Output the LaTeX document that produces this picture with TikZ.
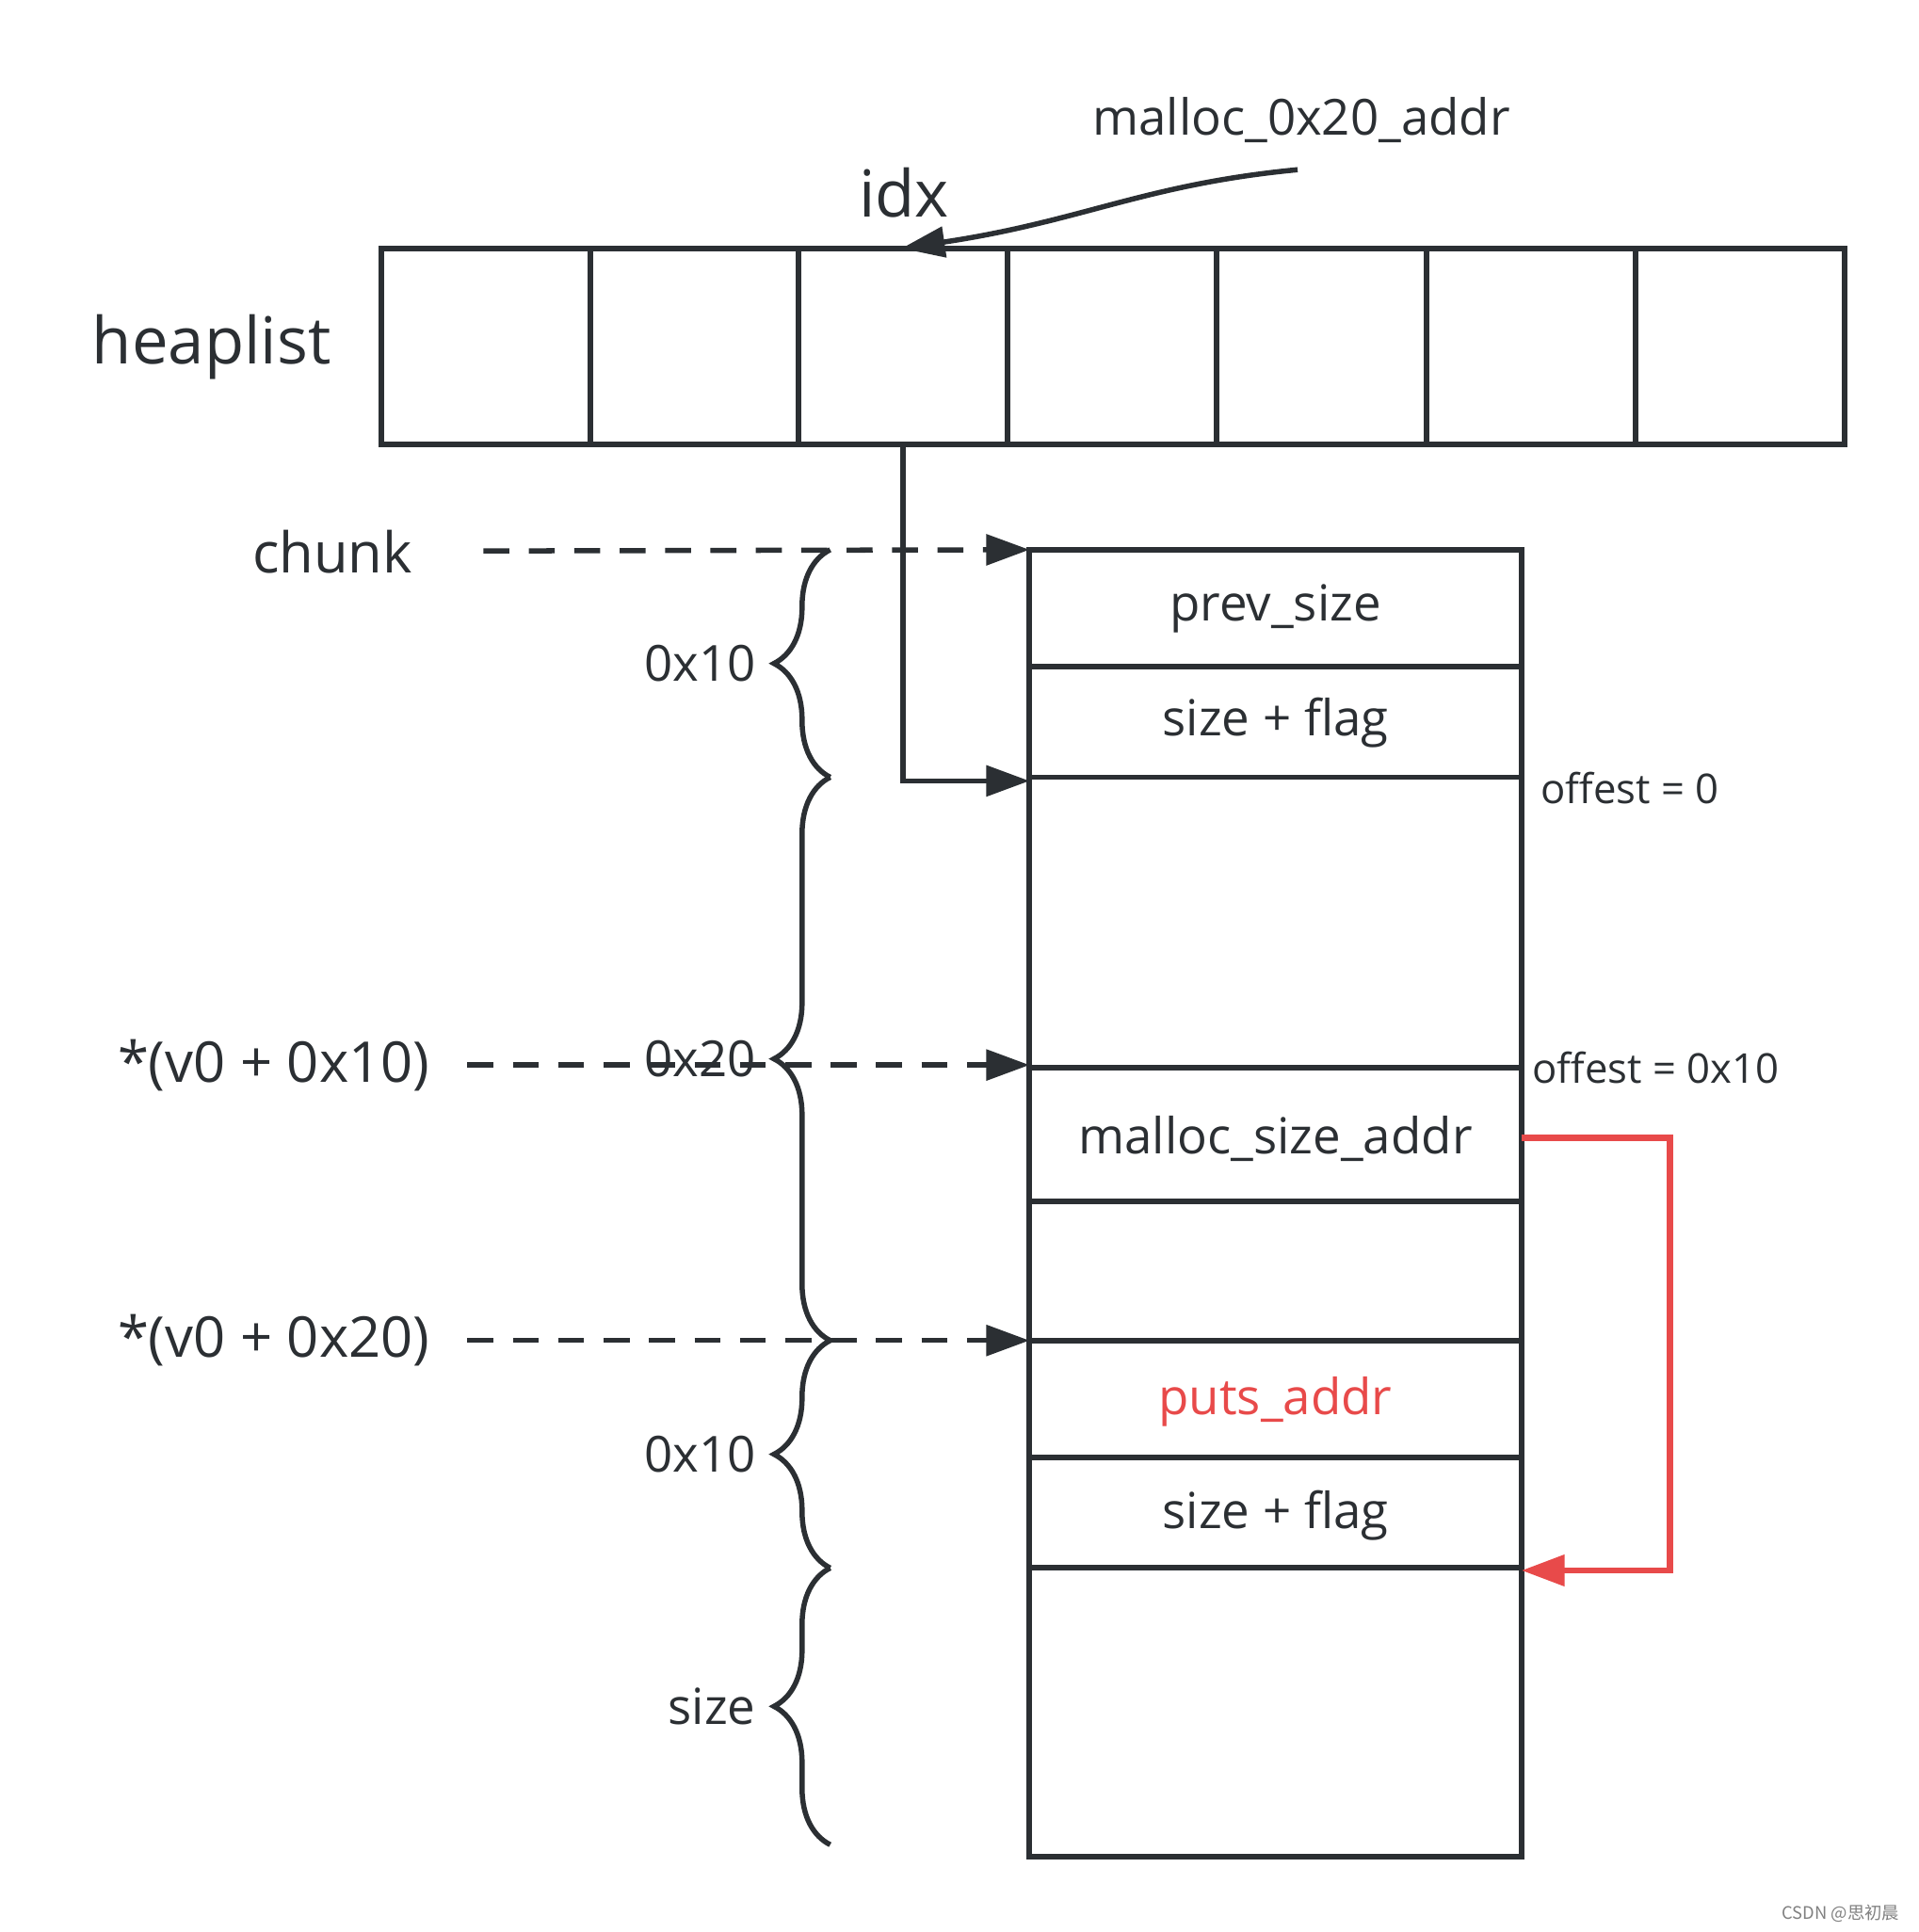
\documentclass[tikz,border=0pt]{standalone}
\usepackage{fontspec}
\setmainfont{Open Sans}
\newfontfamily\cjk{Noto Sans CJK SC}
\usetikzlibrary{arrows.meta,decorations.pathreplacing}
\definecolor{ink}{HTML}{2B2F33}
\definecolor{redline}{HTML}{E84A4A}
\tikzset{
  cell/.style={draw=ink, line width=1.3pt},
  lbl/.style={text=ink, inner sep=0pt},
  tip/.style={-{Triangle[length=10pt,width=7pt]}},
  ptr/.style={ink, line width=1.2pt, dash pattern=on 6pt off 4.5pt, tip},
  brc/.style={ink, line width=1.2pt, decorate, decoration={brace, mirror, amplitude=13pt}}
}
\begin{document}
\begin{tikzpicture}[x=0.01cm, y=-0.01cm]
\useasboundingbox (0,0) rectangle (1560,1571);

% heaplist array
\foreach \a/\b [count=\i] in {310/480,480/649,649/819,819/989,989/1160,1160/1330,1330/1500}
  \draw[cell] (\a,202) rectangle (\b,361) node[midway] (h\i) {};
\node[lbl, font=\fontsize{15}{18}\selectfont] (heaplist) at (172,282) {heaplist};
\node[lbl, font=\fontsize{15}{18}\selectfont] (idx) at (735,157) {idx};
\node[lbl, font=\fontsize{11.5}{14}\selectfont] (maddr) at (1058,98) {malloc\_0x20\_addr};
\coordinate (mstart) at (1055,138);
\coordinate (mend) at (733,202);
\draw[ink, line width=1.2pt, tip] (mstart) .. controls (930,150) and (880,180) .. (mend);

% chunk
\draw[cell] (837,447) rectangle (1237,1510);
\foreach \y in {542,632,868,977,1090,1185,1275}
  \draw[cell] (837,\y) -- (1237,\y);
\node[lbl, font=\fontsize{11.5}{14}\selectfont] (prev) at (1037,495) {prev\_size};
\node[lbl, font=\fontsize{11.5}{14}\selectfont] (sf1) at (1037,588) {size + flag};
\node[lbl, font=\fontsize{11.5}{14}\selectfont] (msa) at (1037,926) {malloc\_size\_addr};
\node[lbl, font=\fontsize{11.5}{14}\selectfont, text=redline] (puts) at (1037,1140) {puts\_addr};
\node[lbl, font=\fontsize{11.5}{14}\selectfont] (sf2) at (1037,1232) {size + flag};
\node[lbl, anchor=west, font=\fontsize{9.5}{12}\selectfont] (off0) at (1252,641) {offest = 0};
\node[lbl, anchor=west, font=\fontsize{9.5}{12}\selectfont] (off1) at (1245,868) {offest = 0x10};

% pointer from idx cell
\coordinate (hb) at (734,361);
\coordinate (mem) at (837,635);
\draw[ink, line width=1.2pt, tip] (hb) |- (mem);

% red arrow
\coordinate (r1) at (1237,925);
\coordinate (r2) at (1237,1277);
\draw[redline, line width=1.5pt, tip] (r1) -- (1358,925) -- (1358,1277) -- (r2);

% dashed pointers
\node[lbl, anchor=east, font=\fontsize{13}{16}\selectfont] (chunk) at (336,449) {chunk};
\node[lbl, anchor=east, font=\fontsize{13}{16}\selectfont] (v10) at (350,866) {*(v0 + 0x10)};
\node[lbl, anchor=east, font=\fontsize{13}{16}\selectfont] (v20) at (350,1090) {*(v0 + 0x20)};
\coordinate (s0) at (393,448);
\coordinate (s1) at (380,866);
\coordinate (s2) at (380,1090);
\coordinate (c0) at (837,447);
\coordinate (c1) at (837,866);
\coordinate (c2) at (837,1090);
\draw[ptr] (s0) -- (c0);
\draw[ptr] (s1) -- (c1);
\draw[ptr] (s2) -- (c2);

% braces
\foreach \a/\b/\t [count=\i] in {447/632/0x10,632/1090/0x20,1090/1275/0x10,1275/1500/size}{
  \draw[brc] (675,\a) -- (675,\b);
  \node[lbl, anchor=east, font=\fontsize{11.5}{14}\selectfont] (b\i) at (615,{(\a+\b)/2}) {\t};
}

\node[lbl, anchor=east, font=\cjk\fontsize{4}{5}\selectfont, text=gray] (wm) at (1545,1556) {CSDN @思初晨};
\end{tikzpicture}
\end{document}
